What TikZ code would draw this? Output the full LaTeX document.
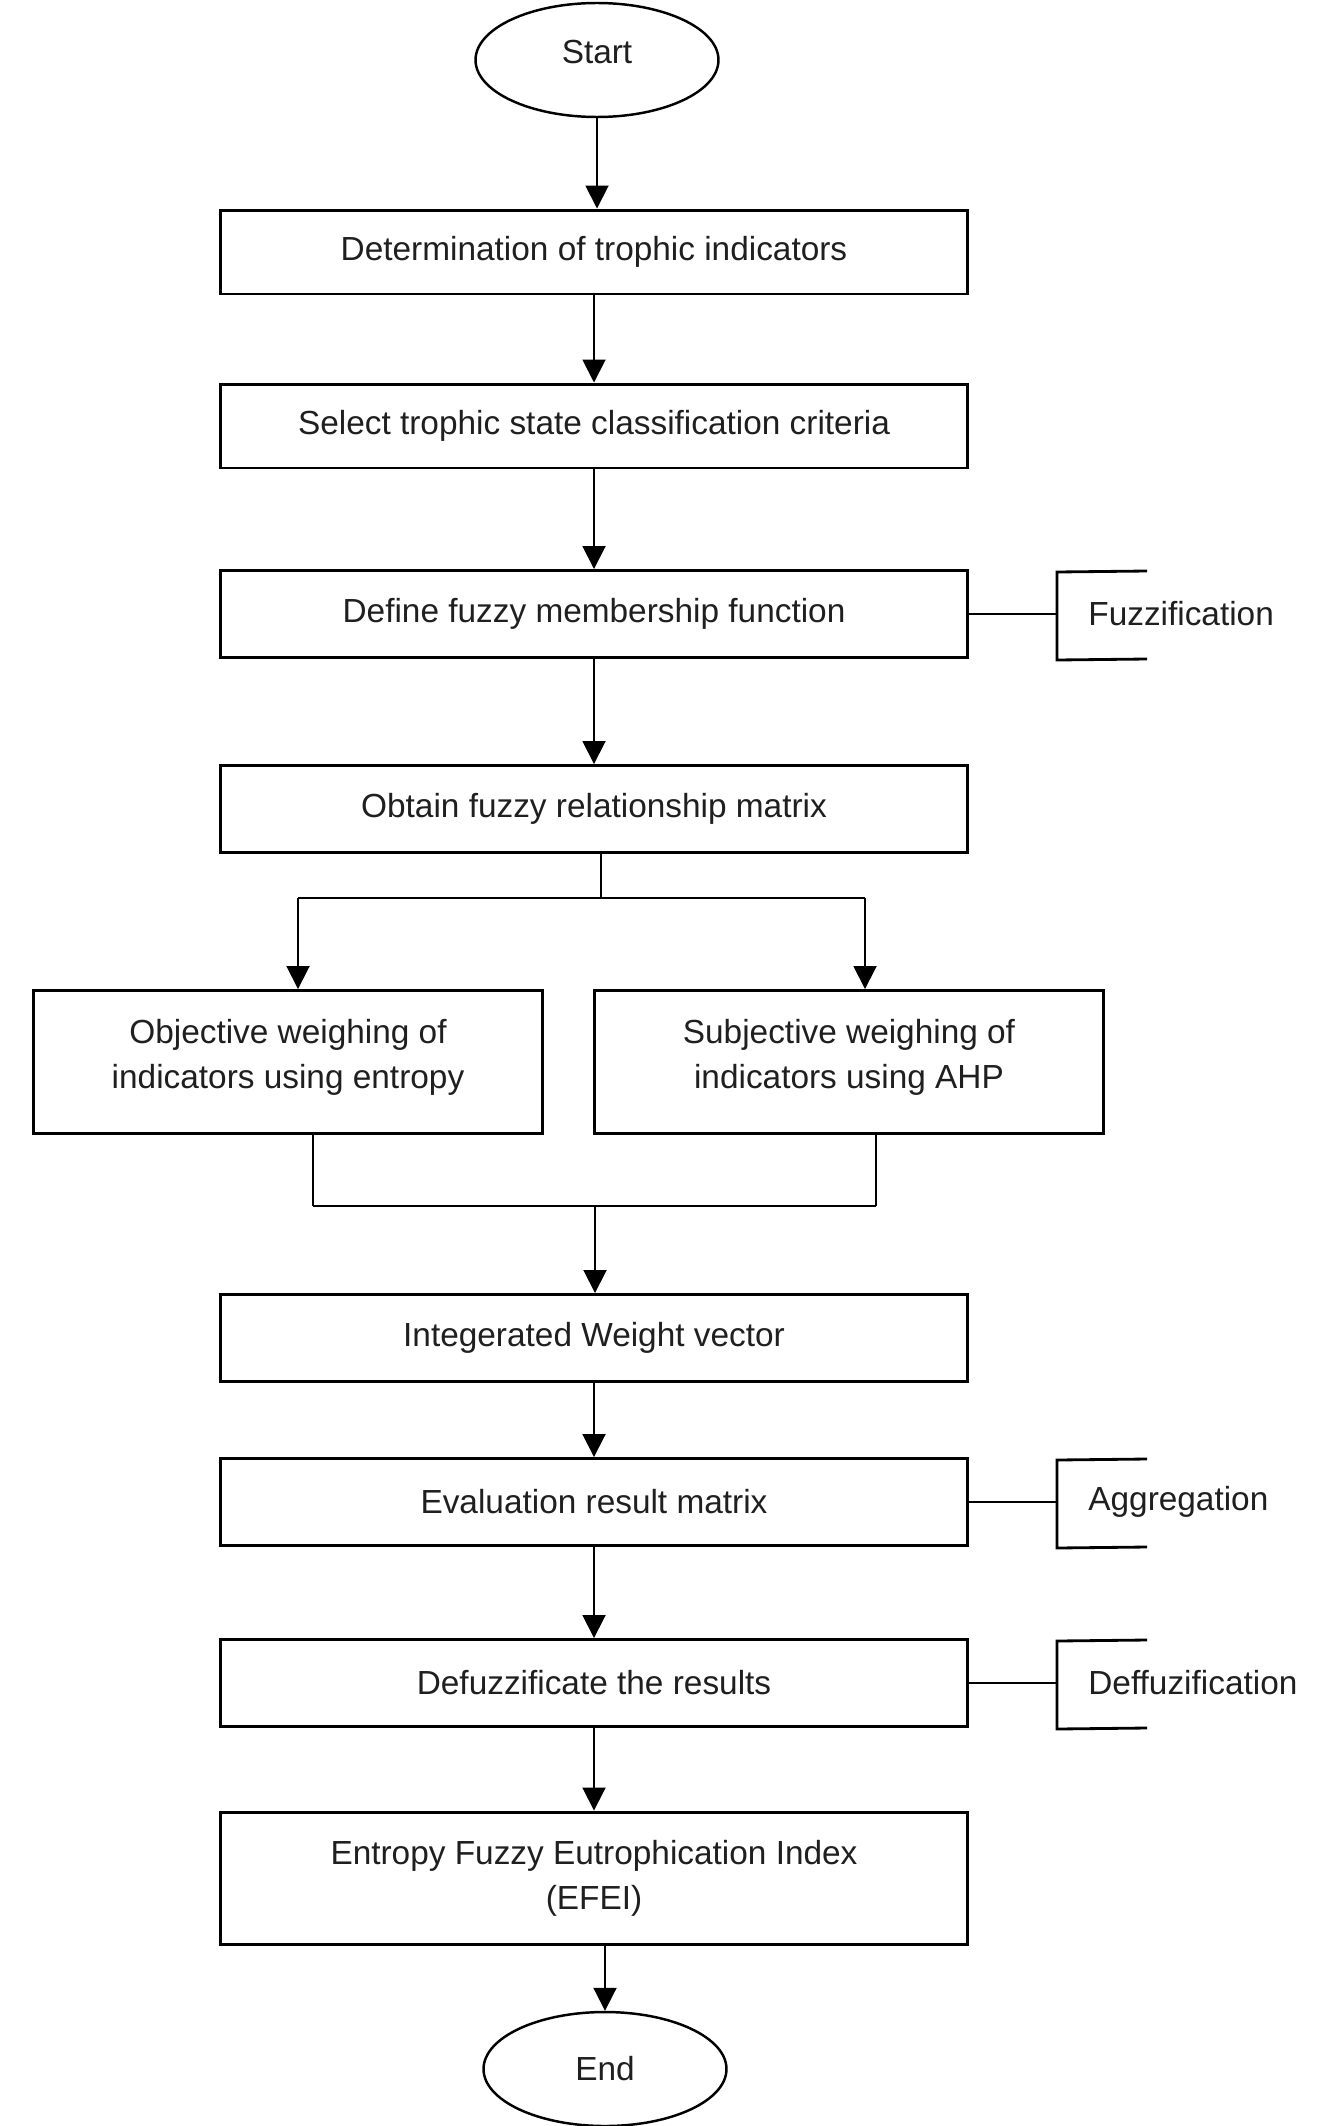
\documentclass[tikz,border=0pt]{standalone}
\usepackage{fontspec}
\setmainfont{Liberation Sans}
\usetikzlibrary{arrows.meta}
\usetikzlibrary{shapes.geometric}

\begin{document}
\begin{tikzpicture}[x=0.02cm,y=-0.02cm,
        every node/.style={font=\fontsize{19}{25.6}\selectfont,text=black!88},
        stepbox/.style={draw,line width=1.7pt,minimum width=14.96cm,minimum height=1.68cm,inner sep=0pt,align=center},
        sidebox/.style={stepbox,minimum width=10.2cm,minimum height=2.86cm},
        term/.style={draw,ellipse,line width=1.4pt,minimum width=4.86cm,minimum height=2.28cm,inner sep=0pt},
        arr/.style={line width=1.1pt,-{Triangle[length=0.46cm,width=0.46cm]}},
        link/.style={line width=1.1pt},
        brace/.style={line width=1.6pt}]
                \useasboundingbox (0,0) rectangle (1336,2126);
                \node[term,text height=14pt,text depth=10.4pt] (start) at (597,60) {Start};
                \node[stepbox] (b1) at (594,252) {Determination of trophic indicators};
                \node[stepbox] (b2) at (594,426) {Select trophic state classification criteria};
                \node[stepbox,minimum height=1.74cm] (b3) at (594,614) {Define fuzzy membership function};
                \node[stepbox,minimum height=1.74cm] (b4) at (594,809) {Obtain fuzzy relationship matrix};
                \node[sidebox] (left) at (288,1062) {Objective weighing of\\indicators using entropy\\[-16.6pt]};
                \node[sidebox] (right) at (849,1062) {Subjective weighing of\\indicators using AHP\\[-16.6pt]};
                \node[stepbox,minimum height=1.74cm] (b5) at (594,1338) {Integerated Weight vector};
                \node[stepbox,minimum height=1.74cm] (b6) at (594,1502) {Evaluation result matrix};
                \node[stepbox,minimum height=1.74cm] (b7) at (594,1683) {Defuzzificate the results};
                \node[stepbox,minimum height=2.64cm] (b8) at (594,1878) {Entropy Fuzzy Eutrophication Index\\(EFEI)};
                \node[term] (end) at (605,2069) {End};
                % main column
                \draw[arr] (start.south) -- (start.south |- b1.north);
                \draw[arr] (b1) -- (b2);
                \draw[arr] (b2) -- (b3);
                \draw[arr] (b3) -- (b4);
                \draw[arr] (b5.south) -- (b5.south |- b6.north);
                \draw[arr] (b6) -- (b7);
                \draw[arr] (b7) -- (b8);
                \draw[arr] (b8.south -| end) -- (end.north);
                % split and merge
                \coordinate (split) at (601,898);
                \coordinate (splitL) at (298,898);
                \coordinate (splitR) at (865,898);
                \draw[link] (b4.south -| split) -- (split);
                \draw[brace] (splitL) -- (splitR);
                \draw[arr] (splitL) -- (splitL |- left.north);
                \draw[arr] (splitR) -- (splitR |- right.north);
                \coordinate (mergeL) at (313,1206);
                \coordinate (mergeR) at (876,1206);
                \coordinate (merge) at (595,1206);
                \draw[link] (left.south -| mergeL) -- (mergeL);
                \draw[link] (right.south -| mergeR) -- (mergeR);
                \draw[brace] (mergeL) -- (mergeR);
                \draw[arr] (merge) -- (merge |- b5.north);
                % side labels
                \coordinate (brk) at (1057,0);
                \coordinate (lab) at (1088,0);
                \foreach \blk/\txt in {b3/Fuzzification,b6/Aggregation,b7/Deffuzification} {
                    \draw[link] (\blk.east) -- (\blk.east -| brk);
                    \draw[brace] (\blk.east -| brk) ++(90,-43) -- ++(-90,1) -- ++(0,88) -- ++(90,-1);
                    \node[anchor=west,inner sep=0pt] (\blk lab) at (\blk.east -| lab) {\txt};
                }
            \end{tikzpicture}
\end{document}
